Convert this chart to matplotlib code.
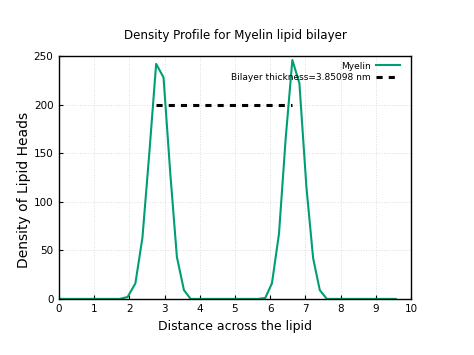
import matplotlib
matplotlib.use("Agg")
import matplotlib.pyplot as plt

# bin centres (nm) and lipid head counts
distance = [0.00, 0.19, 0.38, 0.58, 0.77, 0.96, 1.16, 1.35, 1.54, 1.73,
            1.95, 2.17, 2.37, 2.57, 2.76, 2.97, 3.16, 3.35, 3.55, 3.74,
            3.93, 4.12, 4.32, 4.51, 4.70, 4.89, 5.09, 5.28, 5.47, 5.66,
            5.86, 6.05, 6.25, 6.44, 6.63, 6.83, 7.03, 7.22, 7.41, 7.61,
            7.80, 7.99, 8.19, 8.38, 8.57, 8.76, 8.96, 9.15, 9.34, 9.57]
density = [0, 0, 0, 0, 0, 0, 0, 0, 0, 0,
           2, 16, 63, 152, 242, 228, 130, 43, 9, 0,
           0, 0, 0, 0, 0, 0, 0, 0, 0, 0,
           1, 16, 67, 165, 246, 222, 115, 42, 9, 0,
           0, 0, 0, 0, 0, 0, 0, 0, 0, 0]

peak_left = 2.76
thickness = 3.85098
thickness_level = 200

fig = plt.figure(figsize=(4.74, 3.55), dpi=100)
ax = fig.add_axes([0.1245, 0.158, 0.7425, 0.684])

ax.plot(distance, density, color="#009e73", lw=1.5, label="Myelin")
ax.plot([peak_left, peak_left + thickness], [thickness_level, thickness_level],
        color="black", lw=2.2, dashes=(2.0, 2.0),
        label="Bilayer thickness=%.5f nm" % thickness)

ax.set_xlim(0, 10)
ax.set_ylim(0, 250)
ax.set_xticks(range(0, 11))
ax.set_yticks(range(0, 251, 50))
ax.tick_params(direction="in", length=3, labelsize=7.5, pad=4)
ax.grid(True, color="#dddddd", linestyle=":", lw=0.7)
for s in ax.spines.values():
    s.set_linewidth(1.0)

ax.set_title("Density Profile for Myelin lipid bilayer", fontsize=8.6, pad=12)
ax.set_xlabel("Distance across the lipid", fontsize=9)
ax.set_ylabel("Density of Lipid Heads", fontsize=10)
ax.yaxis.set_label_coords(-0.08, 0.449)

ax.legend(loc="upper right", bbox_to_anchor=(0.985, 1.0), frameon=False,
          markerfirst=False, fontsize=6.5, handlelength=2.7,
          handletextpad=0.6, borderaxespad=0.2, labelspacing=0.25)

fig.savefig("out.png", dpi=100)
